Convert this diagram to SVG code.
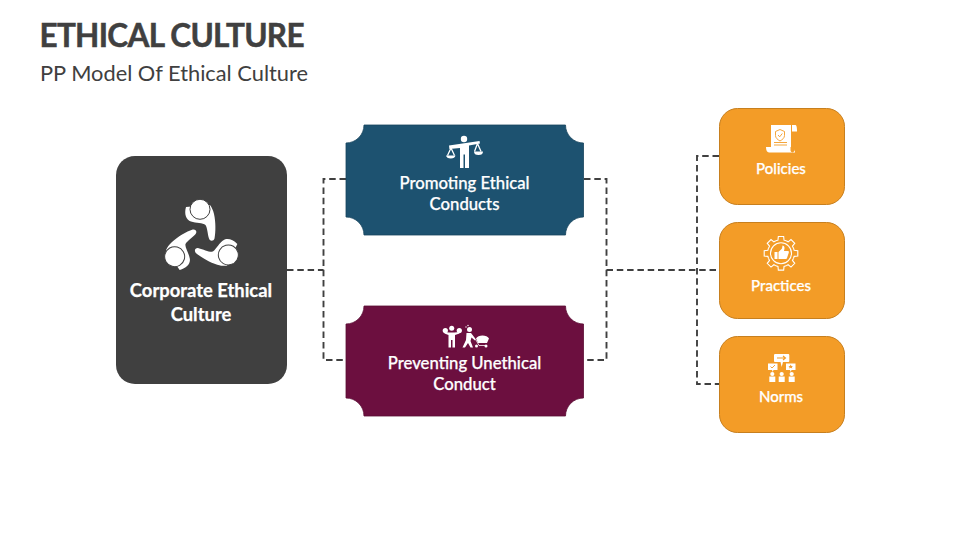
<svg xmlns="http://www.w3.org/2000/svg" xmlns:xlink="http://www.w3.org/1999/xlink" width="960" height="540" viewBox="0 0 960 540">
<style>
text{font-family:"Lato","Open Sans","Liberation Sans",sans-serif}
.t{fill:#fff;text-anchor:middle;font-weight:500;stroke:#fff;stroke-width:.25}
.h{font-size:16.700px}
.o{font-size:15px}
.b{font-size:18.400px;font-weight:700}
.c{fill:none;stroke:#404040;stroke-width:1.900;stroke-dasharray:6.500 3.800}
.box{fill:#f39c27;stroke:#c77f1e;stroke-width:1}
.w{fill:#fff}
.wl{fill:none;stroke:#fff;stroke-width:1.100}
.ol{fill:none;stroke:#f39c27;stroke-width:.9}
</style>
<defs>
<path id="ticket" d="M18 0H219.500A18 18 0 0 0 237.500 18V92A18 18 0 0 0 219.500 110H18A18 18 0 0 0 0 92V18A18 18 0 0 0 18 0Z"/>
<g id="arm"><path class="w" d="M186 207C184 214 186 220 191 221.500C196 223.500 203 222.500 205.500 225C207.500 228 207.500 234 209 238.500C210 241.500 213.500 241.500 214.500 238.500C215.800 232 215.800 222 214 214C213 210 212 208 210 205Z"/><circle class="w" cx="200" cy="209.300" r="10" stroke="#404040" stroke-width="1"/></g>
<path id="gt" d="M-5.170-12.470L-3.040-13.150L-2.660-16.790H2.660L3.040-13.150L5.170-12.470"/>
<g id="pers"><circle class="w" cx="0" cy="-4.500" r="2.100"/><path class="w" d="M-3-2H3V3.500H-3Z"/></g>
</defs>

<text x="39.500" y="46.500" font-size="31.500" font-weight="700" fill="#404040" stroke="#404040" stroke-width=".5" textLength="265" lengthAdjust="spacing">ETHICAL CULTURE</text>
<text x="40" y="81" font-size="21" fill="#404040" textLength="268" lengthAdjust="spacingAndGlyphs">PP Model Of Ethical Culture</text>

<g id="connectors">
<path class="c" d="M287 270H323.500"/>
<path class="c" d="M346 179H323.500V360H346"/>
<path class="c" d="M584 179H606.500V360H584"/>
<path class="c" d="M606.500 270H719"/>
<path class="c" d="M719 156H697V384H719"/>
</g>

<g id="node-corporate">
<rect x="116" y="156" width="171" height="228" rx="19" fill="#404040"/>
<use xlink:href="#arm"/>
<use xlink:href="#arm" transform="rotate(120 201 240.300)"/>
<use xlink:href="#arm" transform="rotate(240 201 240.300)"/>
<text class="t b" x="201" y="297">Corporate Ethical</text>
<text class="t b" x="201" y="320.500">Culture</text>
</g>

<g id="node-promoting">
<use xlink:href="#ticket" x="346" y="125" fill="#1d5270" stroke="#17445d" stroke-width=".8"/>
<circle class="w" cx="464" cy="139" r="3.200"/>
<path class="w" d="M449 145.500L479.500 141L480 143.500L469 145.500V168H465V154.500H463.500V168H460V148L449.400 149Z"/>
<path class="wl" d="M451 148L447.500 155.500M451 148L454.500 155.500M477.500 143.500L474.500 151.500M477.500 143.500L481 151.500" style="stroke-width:1.300"/>
<path class="w" d="M446 155.500H455.500A4.800 3.500 0 0 1 446 155.500ZM474 151.500H483A4.500 3.500 0 0 1 474 151.500Z"/>
<text class="t h" x="464.500" y="189">Promoting Ethical</text>
<text class="t h" x="464.500" y="210">Conducts</text>
</g>

<g id="node-preventing">
<use xlink:href="#ticket" x="346" y="306" fill="#6c0f3f" stroke="#5a0c34" stroke-width=".8"/>
<circle class="w" cx="451.700" cy="328.300" r="2.500"/>
<path class="w" d="M444.500 332L449 332.500H454.500L459.500 332L459.500 333.500L455 335V347.500H452.500V340H451V347.500H448.500V335L444.500 333.500Z"/>
<circle class="w" cx="445.300" cy="330.500" r="2.600"/><circle class="w" cx="459.300" cy="330.500" r="2.600"/>
<circle class="w" cx="469.500" cy="329.500" r="2.500"/>
<path class="w" d="M466.500 333L471 333L476 339.500L475 340.500L471.500 337.500L470.500 341L473 347.500H470.500L468 343L465 347.500H462.500L466 340Z"/>
<path class="w" d="M476 338.500L478 343H487L489 338.500C487 334.500 478 334.500 476 338.500Z"/>
<circle class="w" cx="476.500" cy="346" r="1.500"/><circle class="w" cx="486" cy="346" r="1.500"/>
<path class="wl" d="M476 340L479 345.500H485" style="stroke-width:.8"/>
<circle class="w" cx="466" cy="327" r=".7"/><circle class="w" cx="468" cy="325.500" r=".7"/>
<text class="t h" x="464.500" y="369">Preventing Unethical</text>
<text class="t h" x="464.500" y="390">Conduct</text>
</g>

<g id="node-policies">
<rect class="box" x="719.500" y="108.500" width="125" height="96" rx="18"/>
<path class="w" d="M771 125H791V147H790.500V150C790.500 152 792 152.500 793 152C794.500 152 795 150.500 795 149V152.500H769C767 152.500 766 150 766 147H771Z"/>
<path class="w" d="M792 125H795C796.500 125 797 126.500 797 131.500H792Z"/>
<path class="ol" d="M780 129.500L784.500 131.500V135.500C784.500 138 782.500 139.500 780 141C777.500 139.500 775.500 138 775.500 135.500V131.500Z"/>
<path class="ol" d="M778 135L779.700 136.800L782.300 133.500M774 142.500H787M774 145H787"/>
<text class="t o" x="781" y="174">Policies</text>
</g>

<g id="node-practices">
<rect class="box" x="719.500" y="222.500" width="125" height="96" rx="18"/>
<g class="wl" transform="translate(781 253.300)">
<use xlink:href="#gt"/><use xlink:href="#gt" transform="rotate(45)"/><use xlink:href="#gt" transform="rotate(90)"/><use xlink:href="#gt" transform="rotate(135)"/><use xlink:href="#gt" transform="rotate(180)"/><use xlink:href="#gt" transform="rotate(225)"/><use xlink:href="#gt" transform="rotate(270)"/><use xlink:href="#gt" transform="rotate(315)"/>
<circle r="10.500"/>
</g>
<path class="w" d="M774.500 252H777.500V259H774.500ZM778.500 252L782 248.500L782.500 245.500C784.500 245.500 785 247.500 784 251H788C789 251 789 252.500 788.500 253.500L787 258C786.800 259 786 259 785 259H778.500Z"/>
<text class="t o" x="781" y="291">Practices</text>
</g>

<g id="node-norms">
<rect class="box" x="719.500" y="336.500" width="125" height="96" rx="18"/>
<path class="w" d="M775.500 354H788C788.800 354 789.300 354.500 789.300 355.300V361C789.300 361.800 788.800 362 788 362H783L781.700 367L780.500 362H775.500C774.500 362 774 361.800 774 361V355.300C774 354.500 774.500 354 775.500 354Z"/>
<path class="ol" d="M777 358H785M783 356L785.500 358L783 360" style="stroke-width:1.100"/>
<path class="w" d="M768 363.500H777.500V370H773.500L772.700 372L772 370H768ZM786 363.500H795.500V370H791.500L790.700 372L790 370H786Z"/>
<path class="ol" d="M770.500 366.500L772 368L775 365"/>
<path fill="#f39c27" d="M790.700 364.500L791.400 366H793L791.800 367L792.300 368.600L790.700 367.700L789.100 368.600L789.600 367L788.400 366H790Z"/>
<g transform="translate(772.300 378.500)"><use xlink:href="#pers"/></g>
<g transform="translate(781.700 378.500)"><use xlink:href="#pers"/></g>
<g transform="translate(791.700 378.500)"><use xlink:href="#pers"/></g>
<text class="t o" x="781" y="402">Norms</text>
</g>
</svg>
